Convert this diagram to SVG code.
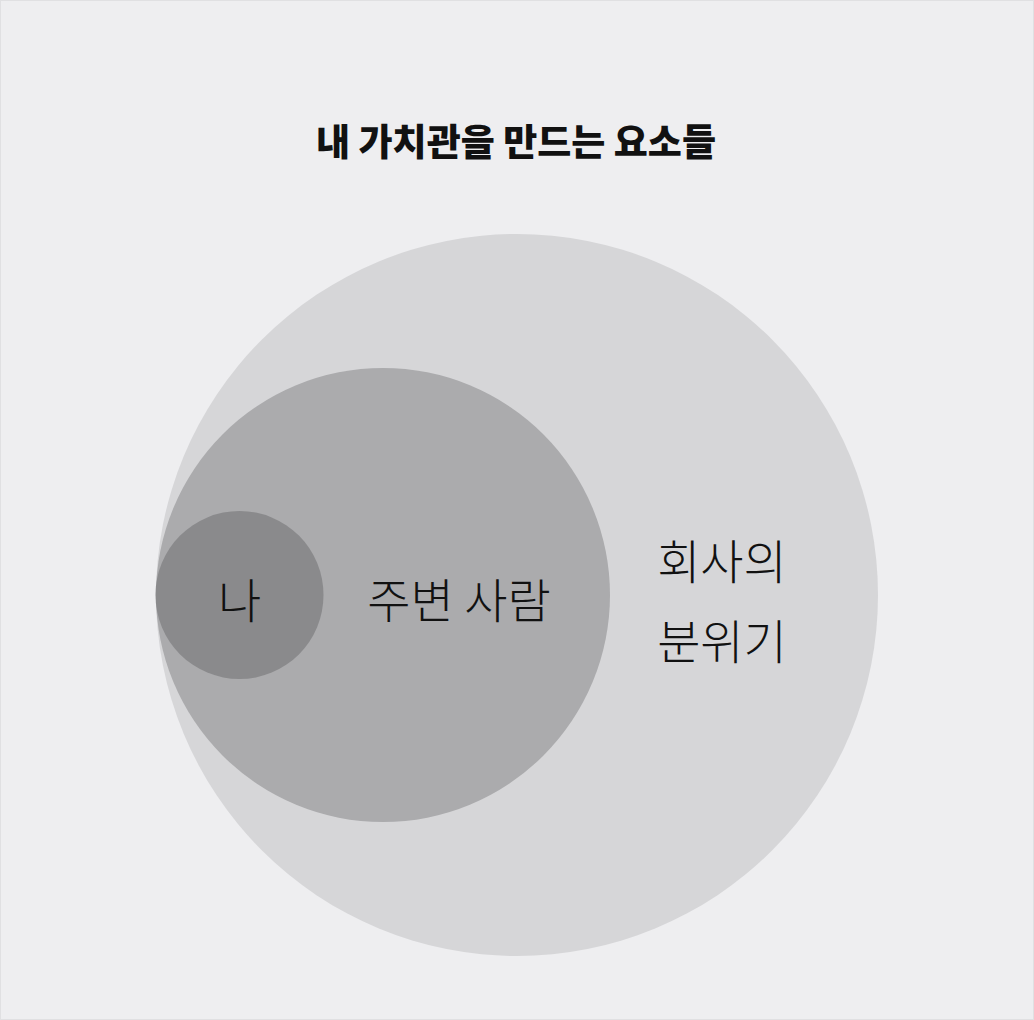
<svg xmlns="http://www.w3.org/2000/svg" width="1034" height="1020" viewBox="0 0 1034 1020">
<style>
.t{font-family:"Noto Sans CJK KR","Noto Sans",sans-serif;fill:#111;text-anchor:middle;dominant-baseline:central}
.lbl{font-size:47px;font-weight:200}
.title{font-size:37px;font-weight:900}
</style>
<rect x="0.5" y="0.5" width="1033" height="1019" fill="#EEEEF0" stroke="#E0E0E2"/>
<text class="t title" x="516" y="140">내 가치관을 만드는 요소들</text>
<g id="company">
<circle cx="517" cy="595" r="361" fill="#D6D6D8"/>
<text class="t lbl" x="722" y="558">회사의</text>
<text class="t lbl" x="722" y="638">분위기</text>
</g>
<g id="people">
<circle cx="383" cy="595" r="227" fill="#ABABAD"/>
<text class="t lbl" x="459" y="597">주변 사람</text>
</g>
<g id="me">
<circle cx="239.5" cy="595" r="84" fill="#8A8A8C"/>
<text class="t lbl" x="239.5" y="597">나</text>
</g>
<g id="connectors"/>
</svg>
